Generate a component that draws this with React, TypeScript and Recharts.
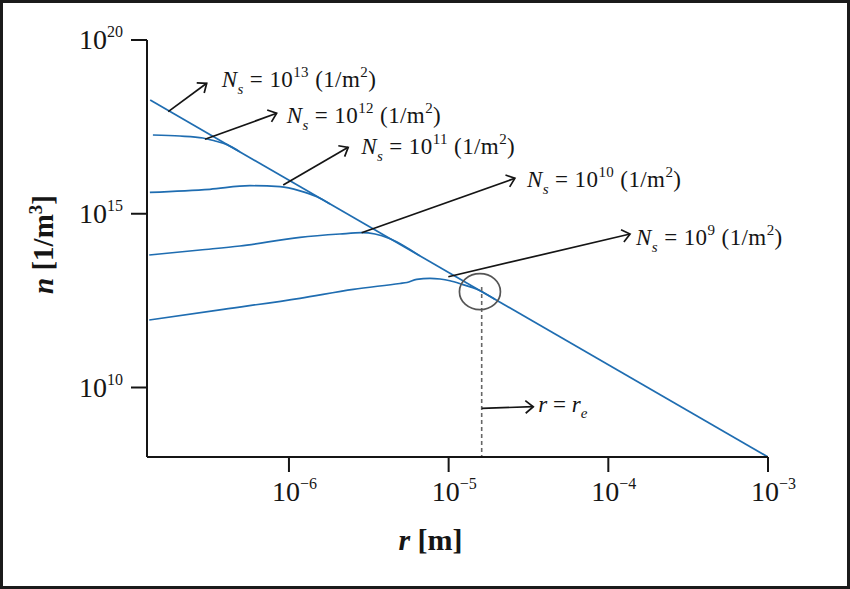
import React from 'react';
import { LineChart, Line, XAxis, YAxis, ReferenceLine, ReferenceDot, Label } from 'recharts';

const FONT = "'Liberation Serif', 'Times New Roman', serif";
const BLUE = '#1f6db1';
const INK = '#151515';

const R_MIN = -6.889;
const R_MAX = -3;
const N_MIN = 8;
const N_MAX = 20;
const xTickExp = [-6, -5, -4, -3];
const yTickExp = [10, 15, 20];

// n ~ r^-k asymptote
const baseR = [-6.869, -3];
const baseN = [18.273, 8];

const ns12R = [-6.852, -6.683, -6.539, -6.463, -6.388, -6.307];
const ns12N = [17.266, 17.237, 17.18, 17.094, 16.99, 16.781];

const ns11R = [-6.871, -6.495, -6.244, -6.056, -5.931, -5.825, -5.743];
const ns11N = [15.617, 15.704, 15.807, 15.778, 15.66, 15.49, 15.283];

const ns10R = [-6.875, -6.557, -6.307, -5.931, -5.681, -5.545, -5.461, -5.367, -5.18];
const ns10N = [13.813, 13.957, 14.072, 14.322, 14.417, 14.455, 14.417, 14.28, 13.788];

const ns9R = [-6.875, -6.411, -5.931, -5.597, -5.305, -5.261, -5.2, -5.117, -5.054, -4.992, -4.91, -4.823, -4.71];
const ns9N = [11.942, 12.25, 12.567, 12.826, 12.993, 13.022, 13.114, 13.142, 13.122, 13.073, 12.96, 12.83, 12.54];

// r = r_e marker
const reR = -4.793;
const reTopN = 12.89;
const circleR = -4.804;
const circleN = 12.757;

const nsLabels = ['13', '12', '11', '10', '9'];
const nsFrom = [[-6.756, 17.937], [-6.526, 17.142], [-6.036, 15.827], [-5.545, 14.455], [-5.002, 13.188]];
const nsTo = [[-6.515, 18.754], [-6.077, 17.891], [-5.629, 16.912], [-4.585, 16.02], [-3.864, 14.417]];
const nsOffset = [[15, 4], [10, 10], [13, 7], [12, 9], [6, 11]];

const reFrom = [-4.793, 9.401];
const reTo = [-4.47, 9.447];

const p10 = (e: number) => Math.pow(10, e);
const series = (rs: number[], ns: number[]) => rs.map((r, i) => ({ r: p10(r), n: p10(ns[i]) }));
const pt = (a: number[]) => ({ x: p10(a[0]), y: p10(a[1]) });

const curves = [
  series(baseR, baseN),
  series(ns12R, ns12N),
  series(ns11R, ns11N),
  series(ns10R, ns10N),
  series(ns9R, ns9N),
];

function arrowHead(x1: number, y1: number, x2: number, y2: number) {
  const a = Math.atan2(y2 - y1, x2 - x1);
  const len = 10;
  const spread = 0.68;
  const ax = x2 - len * Math.cos(a - spread);
  const ay = y2 - len * Math.sin(a - spread);
  const bx = x2 - len * Math.cos(a + spread);
  const by = y2 - len * Math.sin(a + spread);
  return `M${ax},${ay} L${x2},${y2} L${bx},${by}`;
}

function NsText({ x, y, exp }: { x: number; y: number; exp: string }) {
  return (
    <text x={x} y={y} fontFamily={FONT} fontSize={23} fill={INK} letterSpacing={0.4}>
      <tspan fontStyle="italic">N</tspan>
      <tspan fontStyle="italic" fontSize={15} dy={7}>s</tspan>
      <tspan dy={-7}> = 10</tspan>
      <tspan fontSize={15} dy={-10}>{exp}</tspan>
      <tspan dy={10}> (1/m</tspan>
      <tspan fontSize={15} dy={-10}>2</tspan>
      <tspan dy={10}>)</tspan>
    </text>
  );
}

function ReText({ x, y }: { x: number; y: number }) {
  return (
    <text x={x} y={y} fontFamily={FONT} fontSize={23} fill={INK}>
      <tspan fontStyle="italic">r</tspan>
      <tspan> = </tspan>
      <tspan fontStyle="italic">r</tspan>
      <tspan fontStyle="italic" fontSize={15} dy={6}>e</tspan>
    </text>
  );
}

const makeArrow = (text: (x: number, y: number) => React.ReactNode, off: number[]) => (p: any) => (
  <g>
    <line x1={p.x1} y1={p.y1} x2={p.x2} y2={p.y2} stroke={INK} strokeWidth={1.7} />
    <path d={arrowHead(p.x1, p.y1, p.x2, p.y2)} fill="none" stroke={INK} strokeWidth={1.7} />
    {text(p.x2 + off[0], p.y2 + off[1])}
  </g>
);

function XTick({ x, y, payload }: any) {
  const e = Math.round(Math.log10(payload.value));
  return (
    <text x={x - 17} y={y + 27} fontFamily={FONT} fontSize={28} fill={INK}>
      <tspan>10</tspan>
      <tspan fontSize={16} dy={-12}>{`\u2212${-e}`}</tspan>
    </text>
  );
}

function YTick({ x, y, payload }: any) {
  const e = Math.round(Math.log10(payload.value));
  return (
    <text x={x - 6} y={y + 9} fontFamily={FONT} fontSize={28} fill={INK} textAnchor="end">
      <tspan>10</tspan>
      <tspan fontSize={16} dy={-12}>{e}</tspan>
    </text>
  );
}

export default function App() {
  return (
    <div style={{ position: 'fixed', left: 0, top: 0, width: 850, height: 589, background: '#fff' }}>
      <LineChart width={850} height={589} margin={{ top: 40, right: 82, bottom: 72, left: 47 }}>
        <XAxis
          dataKey="r"
          type="number"
          scale="log"
          domain={[p10(R_MIN), p10(R_MAX)]}
          allowDataOverflow
          ticks={xTickExp.map(p10)}
          tick={<XTick />}
          tickSize={15}
          height={60}
          axisLine={{ stroke: INK, strokeWidth: 2 }}
          tickLine={{ stroke: INK, strokeWidth: 2 }}
        >
          <Label
            content={({ viewBox }: any) => (
              <text x={viewBox.x + viewBox.width / 2 - 27} y={viewBox.y + 93} fontFamily={FONT} fontSize={30} fontWeight="bold" fill={INK} textAnchor="middle">
                <tspan fontStyle="italic">r</tspan>
                <tspan> [m]</tspan>
              </text>
            )}
          />
        </XAxis>
        <YAxis
          type="number"
          scale="log"
          domain={[p10(N_MIN), p10(N_MAX)]}
          allowDataOverflow
          ticks={yTickExp.map(p10)}
          tick={<YTick />}
          tickSize={16}
          width={100}
          axisLine={{ stroke: INK, strokeWidth: 2 }}
          tickLine={{ stroke: INK, strokeWidth: 2 }}
        >
          <Label
            content={({ viewBox }: any) => {
              const cx = 53;
              const cy = viewBox.y + viewBox.height / 2 - 4;
              return (
                <text x={cx} y={cy} transform={`rotate(-90, ${cx}, ${cy})`} fontFamily={FONT} fontSize={29} fontWeight="bold" fill={INK} textAnchor="middle">
                  <tspan fontStyle="italic">n</tspan>
                  <tspan> [1/m</tspan>
                  <tspan fontSize={19} dy={-11}>3</tspan>
                  <tspan dy={11}>]</tspan>
                </text>
              );
            }}
          />
        </YAxis>
        {curves.map((d, i) => (
          <Line
            key={i}
            data={d}
            dataKey="n"
            type="monotone"
            dot={false}
            stroke={BLUE}
            strokeWidth={1.7}
            isAnimationActive={false}
          />
        ))}
        <ReferenceLine
          segment={[pt([reR, reTopN]), pt([reR, N_MIN])]}
          stroke="#666"
          strokeWidth={1.6}
          strokeDasharray="4 3"
        />
        <ReferenceDot
          x={p10(circleR)}
          y={p10(circleN)}
          shape={(p: any) => <ellipse cx={p.cx} cy={p.cy} rx={20.5} ry={18} fill="none" stroke="#555" strokeWidth={1.7} />}
        />
        {nsLabels.map((lab, i) => (
          <ReferenceLine
            key={lab}
            segment={[pt(nsFrom[i]), pt(nsTo[i])]}
            shape={makeArrow((x, y) => <NsText x={x} y={y} exp={lab} />, nsOffset[i])}
          />
        ))}
        <ReferenceLine
          segment={[pt(reFrom), pt(reTo)]}
          shape={makeArrow((x, y) => <ReText x={x} y={y} />, [5, 5])}
        />
      </LineChart>
      <div style={{ position: 'absolute', inset: 0, border: '3px solid #1b1b1b', pointerEvents: 'none' }} />
    </div>
  );
}
